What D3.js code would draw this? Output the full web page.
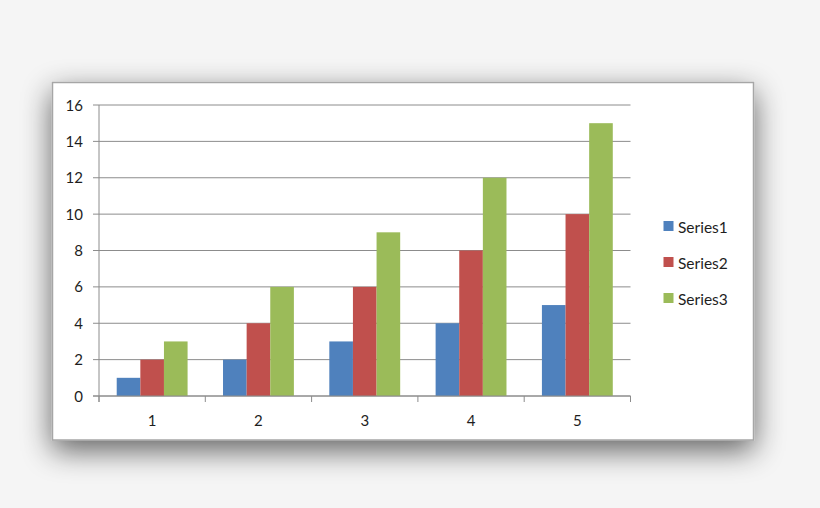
<!DOCTYPE html>
<html><head><meta charset="utf-8">
<script src="https://cdn.jsdelivr.net/npm/d3@7"></script>
<style>
html,body{margin:0;padding:0;background:#f5f5f5;}
svg{display:block;}
text{font-family:Lato,"Open Sans",sans-serif;fill:#1e1e1e;}
</style></head>
<body>
<script>
const categories = ["1","2","3","4","5"];
const seriesNames = ["Series1","Series2","Series3"];
const series1 = [1,2,3,4,5];
const series2 = [2,4,6,8,10];
const series3 = [3,6,9,12,15];
const yTicks = [0,2,4,6,8,10,12,14,16];
const colors = ["#4f81bd","#c0504d","#9bbb59"];

const seriesValues = [series1, series2, series3];
const W = 820, H = 508;
const svg = d3.select("body").append("svg").attr("width", W).attr("height", H);

const defs = svg.append("defs");
const f = defs.append("filter").attr("id","sh").attr("x","-20%").attr("y","-30%").attr("width","140%").attr("height","170%");
f.append("feGaussianBlur").attr("in","SourceAlpha").attr("stdDeviation",15).attr("result","b");
f.append("feOffset").attr("in","b").attr("dx",0).attr("dy",10).attr("result","o");
f.append("feComponentTransfer").attr("in","o").attr("result","o2")
  .append("feFuncA").attr("type","linear").attr("slope",0.6);
const m = f.append("feMerge");
m.append("feMergeNode").attr("in","o2");
m.append("feMergeNode").attr("in","SourceGraphic");

// chart box
svg.append("rect").attr("x",52.5).attr("y",82.5).attr("width",701).attr("height",357.5)
  .attr("fill","#fff").attr("stroke","#a6a6a6").attr("stroke-width",1.5).attr("filter","url(#sh)");

const x0 = 99, x1 = 630.5, yBase = 396, yTop = 105;
const x = d3.scaleBand().domain(categories).range([x0, x1]).paddingInner(0).paddingOuter(0);
const y = d3.scaleLinear().domain([0,16]).range([yBase, yTop]);

// gridlines
const g = svg.append("g");
g.selectAll("line.grid").data(yTicks).join("line")
  .attr("x1", x0-6).attr("x2", x1).attr("y1", d=>y(d)).attr("y2", d=>y(d))
  .attr("stroke","#8c8c8c").attr("stroke-width",1);
// y axis line
g.append("line").attr("x1",x0).attr("x2",x0).attr("y1",yTop).attr("y2",yBase+6)
  .attr("stroke","#8c8c8c").attr("stroke-width",1);
// y labels
g.selectAll("text.yl").data(yTicks).join("text")
  .attr("x", 83).attr("y", d=>y(d)+5.5).attr("text-anchor","end")
  .attr("font-size",15).text(d=>d);

// x ticks at category boundaries
const bounds = categories.map(c=>x(c)).concat([x1]);
g.selectAll("line.xt").data(bounds).join("line")
  .attr("x1", d=>d).attr("x2", d=>d).attr("y1", yBase).attr("y2", yBase+6)
  .attr("stroke","#8c8c8c");
g.selectAll("text.xl").data(categories).join("text")
  .attr("x", d=>x(d)+x.bandwidth()/2).attr("y", 426).attr("text-anchor","middle")
  .attr("font-size",15).text(d=>d);

// bars
const bw = x.bandwidth()/4.5;
const xs = d3.scaleBand().domain(seriesNames).range([0, bw*3]);
seriesNames.forEach((s,si)=>{
  svg.append("g").selectAll("rect").data(categories).join("rect")
    .attr("x", (c)=>x(c) + bw*0.75 + xs(s))
    .attr("width", xs.bandwidth())
    .attr("y", (c,i)=>y(seriesValues[si][i]))
    .attr("height", (c,i)=>yBase - y(seriesValues[si][i]))
    .attr("fill", colors[si]);
});
// redraw axis baseline over bars
svg.append("line").attr("x1",x0-6).attr("x2",x1).attr("y1",yBase).attr("y2",yBase).attr("stroke","#8c8c8c");

// legend
const leg = svg.append("g");
seriesNames.forEach((s,i)=>{
  const ly = 221 + i*36;
  leg.append("rect").attr("x",663.5).attr("y",ly).attr("width",10).attr("height",10).attr("fill",colors[i]);
  leg.append("text").attr("x",678).attr("y",ly+11.5).attr("font-size",15.5).text(s);
});
</script>
</body></html>
